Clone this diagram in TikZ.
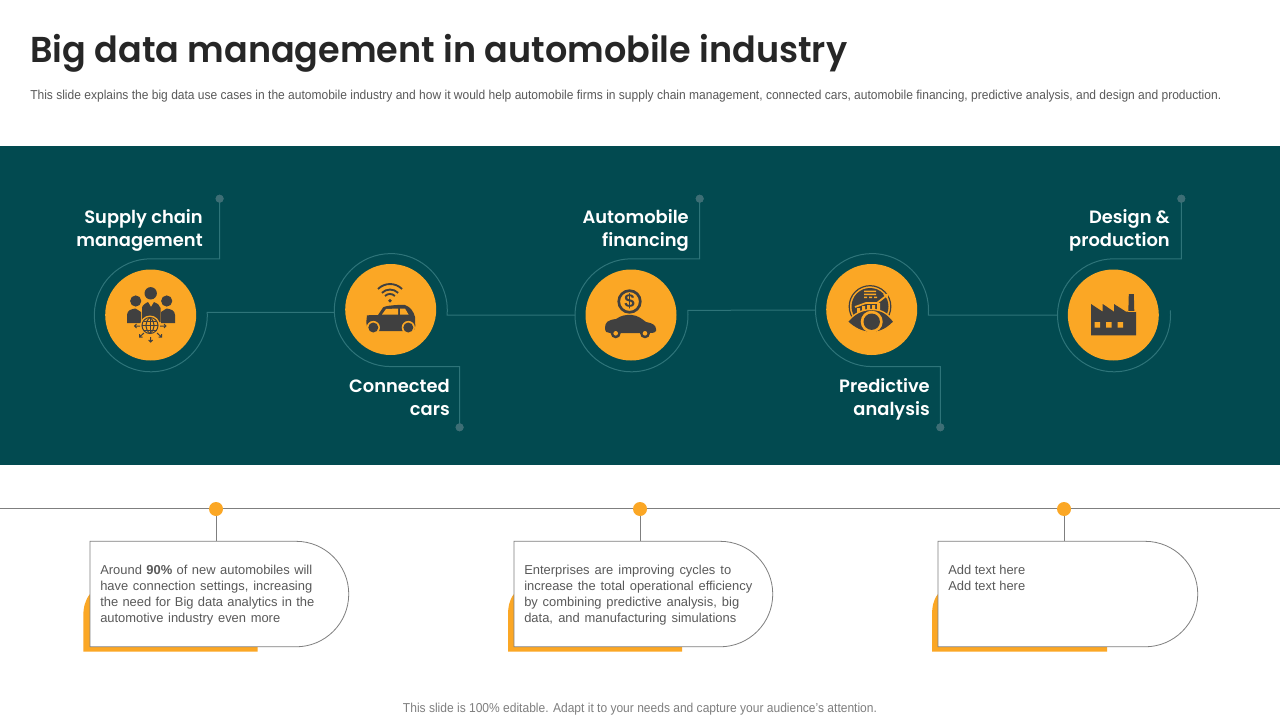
\documentclass[tikz,border=0pt]{standalone}
\usepackage{graphicx}
\usepackage{fontspec}
\setmainfont{Liberation Sans}
\newfontfamily\headfont{Poppins}[BoldFont=* SemiBold]
\definecolor{teal}{HTML}{024A50}
\definecolor{amber}{HTML}{FBA725}
\definecolor{ink}{HTML}{404040}
\definecolor{titleink}{HTML}{262626}
\definecolor{bodyink}{HTML}{595959}
\definecolor{footink}{HTML}{7F7F7F}
\definecolor{leader}{HTML}{2E7479}
\definecolor{leaderdot}{HTML}{3D6E75}
\definecolor{rule}{HTML}{7F7F7F}
\def\pu{0.75pt}
\tikzset{
  disc/.style={circle,fill=amber,minimum size=68.25pt,inner sep=0pt},
  ldot/.style={circle,fill=leaderdot,minimum size=6pt,inner sep=0pt},
  link/.style={draw=leader,line width=0.75pt},
  hub/.style={circle,fill=amber,minimum size=10.5pt,inner sep=0pt},
  stem/.style={draw=rule,line width=0.75pt},
  card/.style={draw=rule,line width=0.6pt,fill=white},
  tag/.style={anchor=east,align=right,text=white,font=\headfont\bfseries\fontsize{13.4}{17.25}\selectfont,inner sep=0pt},
  cardtext/.style={anchor=west,align=left,text=bodyink,font=\fontsize{9.7}{12}\selectfont,inner sep=0pt},
  icon/.style={fill=ink,draw=none},
  gap/.style={fill=amber,draw=none},
}
\newcommand{\fitl}[2]{\makebox[\dimexpr 0.75pt*#1\relax][s]{#2}}
\newcommand{\squeeze}[2]{\resizebox{\dimexpr 0.75pt*#1\relax}{\height}{#2}}
\begin{document}
\begin{tikzpicture}[x=0.75pt,y=-0.75pt]
\useasboundingbox (0,0) rectangle (1280,720);
\fill[white] (0,0) rectangle (1280,720);
\node[anchor=west,inner sep=0pt,text=titleink,font=\headfont\bfseries\fontsize{27}{32}\selectfont] (title) at (30,53) {\squeeze{817}{Big data management in automobile industry}};
\node[anchor=west,inner sep=0pt,text=bodyink,font=\fontsize{9.7}{11}\selectfont] (sub) at (30,96) {\squeeze{1191}{This slide explains the big data use cases in the automobile industry and how it would help automobile firms in supply chain management, connected cars, automobile financing, predictive analysis, and design and production.}};
\fill[teal] (0,146) rectangle (1280,465);

% discs
\node[disc] (n1) at (150.7,315) {};
\node[disc] (n2) at (390.7,309.5) {};
\node[disc] (n3) at (631,315) {};
\node[disc] (n4) at (871.7,309.5) {};
\node[disc] (n5) at (1113.3,315) {};
% leader dots
\node[ldot] (d1) at (219.6,198.7) {};
\node[ldot] (d2) at (459.6,427.3) {};
\node[ldot] (d3) at (699.7,198.7) {};
\node[ldot] (d4) at (940.3,427.3) {};
\node[ldot] (d5) at (1181.3,198.7) {};
% ring points
\coordinate (t1) at (150.8,258.8);
\coordinate (j2) at (334.4,312.3);
\coordinate (b2) at (390.8,366.6);
\coordinate (j3) at (575.1,315);
\coordinate (t3) at (631.5,258.8);
\coordinate (j4) at (815.6,310);
\coordinate (b4) at (872,366.6);
\coordinate (j5) at (1057.6,315);
\coordinate (t5) at (1114,258.8);
% connectors
\draw[link] (d1.center) |- (t1) arc[start angle=90,end angle=363,radius=56.5*\pu] -- (j2);
\draw[link] (d2.center) |- (b2) arc[start angle=270,end angle=-5,radius=56.5*\pu] -- (j3);
\draw[link] (d3.center) |- (t3) arc[start angle=90,end angle=365,radius=56.5*\pu] -- (j4);
\draw[link] (d4.center) |- (b4) arc[start angle=270,end angle=-5,radius=56.5*\pu] -- (j5);
\draw[link] (d5.center) |- (t5) arc[start angle=90,end angle=365,radius=56.5*\pu];
\node[ldot] at (d1) {};\node[ldot] at (d2) {};\node[ldot] at (d3) {};\node[ldot] at (d4) {};\node[ldot] at (d5) {};
% labels
\node[tag] (l1) at (203,230.5) {Supply chain\\management};
\node[tag] (l2) at (450,397.5) {Connected\\cars};
\node[tag] (l3) at (689,230.5) {Automobile\\financing};
\node[tag] (l4) at (930,399) {Predictive\\analysis};
\node[tag] (l5) at (1170,230.5) {Design \&\\production};

% ---- icon 1: people and globe
\fill[icon] (150.7,293.3) circle[radius=6.2*\pu];
\fill[icon] (135.7,301) circle[radius=5.6*\pu];
\fill[icon] (166.7,301) circle[radius=5.6*\pu];
\fill[icon] (127,323) -- (127,315) .. controls (127,310) and (132,309) .. (135.5,308.5) -- (141,312) -- (141,323) -- cycle;
\fill[icon] (175,323) -- (175,315) .. controls (175,310) and (170,309) .. (166.5,308.5) -- (161,312) -- (161,323) -- cycle;
\fill[icon] (142,322) -- (142,308) .. controls (142,305) and (146,303) .. (148,302) -- (151,307) -- (154,302) .. controls (157,303) and (160,305) .. (160.5,308) -- (160.5,322) -- cycle;
\fill[gap] (150,325.5) circle[radius=10*\pu];
\begin{scope}[draw=ink,line width=0.75pt]
\draw (150,325.5) circle[radius=8*\pu];
\draw (142,325.5) -- (158,325.5) (150,317.5) -- (150,333.5) (143.5,321) -- (156.5,321) (143.5,330) -- (156.5,330);
\draw (150,317.5) .. controls (144.5,322) and (144.5,329) .. (150,333.5);
\draw (150,317.5) .. controls (155.5,322) and (155.5,329) .. (150,333.5);
\end{scope}
\begin{scope}[draw=ink,line width=0.75pt]
\draw (140,326) -- (134.5,326) (136.5,324) -- (134.5,326) -- (136.5,328);
\draw (160,326) -- (166,326) (164,324) -- (166,326) -- (164,328);
\draw (144,333) -- (139.5,337) (139.5,334) -- (139.5,337) -- (142.5,337);
\draw (157,333) -- (161.5,337) (161.5,334) -- (161.5,337) -- (158.5,337);
\draw (150.7,337) -- (150.7,342) (148.7,340) -- (150.7,342) -- (152.7,340);
\end{scope}

% ---- icon 2: connected car
\fill[icon] (390,300.7) circle[radius=1.9*\pu];
\begin{scope}[draw=ink,line width=1.4pt]
\draw (385,296) arc[start angle=135,end angle=45,radius=7*\pu];
\draw (381.9,292.9) arc[start angle=135,end angle=45,radius=11.5*\pu];
\draw (378,289) arc[start angle=135,end angle=45,radius=17*\pu];
\end{scope}
\fill[icon] (367,315.3) -- (378,315) -- (383,307.5) .. controls (385,305.5) and (400,304.5) .. (405,305) .. controls (410,306.5) and (414,312) .. (415,317) -- (415.3,326) .. controls (415.3,329) and (414,331) .. (412,331) -- (370,331) .. controls (367,329) and (366,324) .. (366.5,320) -- cycle;
\fill[gap] (382,314.5) -- (386,309) -- (398,308.5) -- (398,314.5) -- cycle;
\fill[gap] (400,314.5) -- (400,308.5) -- (405,308.5) -- (408.5,314.5) -- cycle;
\fill[gap] (373.3,327.5) circle[radius=6.6*\pu];
\fill[gap] (408.3,327.5) circle[radius=6.6*\pu];
\fill[icon] (373.3,327.5) circle[radius=5*\pu];
\fill[icon] (408.3,327.5) circle[radius=5*\pu];

% ---- icon 3: coin and car
\draw[draw=ink,line width=2pt] (629.5,301.5) circle[radius=10.8*\pu];
\node[inner sep=0pt,text=ink,font=\bfseries\fontsize{14}{14}\selectfont] (coin) at (629.5,301.5) {\$};
\fill[icon] (605,328) .. controls (605,322) and (608,320) .. (616,319) .. controls (621,315.5) and (626,314.5) .. (632,315) .. controls (638,315.5) and (642,319) .. (646,322) .. controls (652,323) and (656,325) .. (656,329) -- (656,331) .. controls (656,332) and (654,333) .. (650,333) -- (610,333) .. controls (607,333) and (605,332) .. (605,328) -- cycle;
\fill[icon] (615.7,333.3) circle[radius=5*\pu];
\fill[icon] (645,333.3) circle[radius=5*\pu];
\fill[gap] (615.7,333.3) circle[radius=2.3*\pu];
\fill[gap] (645,333.3) circle[radius=2.3*\pu];

% ---- icon 4: eye and chart
\fill[icon] (870,306.5) circle[radius=18.5*\pu];
\draw[draw=ink,line width=0.9pt] (870,306.5) circle[radius=20.8*\pu];
\fill[gap] (864,290.5) rectangle (876,292) (864,293.5) rectangle (876,295) (864,296.5) rectangle (867,298) (869,296.5) rectangle (872,298) (874,296.5) rectangle (877,298);
\draw[draw=amber,line width=1.3pt] (855,307) -- (866,303) -- (877,303) -- (886,296);
\fill[gap] (888.5,293.5) -- (883,294.5) -- (887.5,299) -- cycle;
\fill[gap] (857,308) rectangle (860,318) (862,306) rectangle (865,318) (867,305) rectangle (870,318) (872,305) rectangle (875,318) (877,303) rectangle (880,318);
\draw[fill=ink,draw=amber,line width=1pt] (847.3,321.7) .. controls (854,314) and (861,309.5) .. (871.7,309.5) .. controls (882,309.5) and (888,314) .. (894,321.7) .. controls (888,328) and (881,332.5) .. (871.7,332.5) .. controls (862,332.5) and (854,328) .. (847.3,321.7) -- cycle;
\fill[gap] (871.7,321.7) circle[radius=11*\pu];
\fill[icon] (871.7,321.7) circle[radius=8.2*\pu];

% ---- icon 5: factory
\fill[icon] (1091,335.3) -- (1091,304) -- (1102.7,311.7) -- (1102.7,304) -- (1114,311.7) -- (1114,304) -- (1126,311.7) -- (1128.3,311.7) -- (1128.8,294) -- (1133.8,294) -- (1134.3,311.7) -- (1136,311.7) -- (1136,335.3) -- cycle;
\fill[gap] (1128,311) rectangle (1136,312.3);
\fill[gap] (1094.5,322) rectangle (1100,327.5) (1106.2,322) rectangle (1111.7,327.5) (1117.6,322) rectangle (1123.1,327.5);

% ---- lower part
\coordinate (rl) at (0,508.5);
\coordinate (rr) at (1280,508.5);
\draw[stem] (rl) -- (rr);
\fill[amber] (83.3,651.7) -- (257.7,651.7) -- (257.7,640) -- (90,640) -- (90,594) .. controls (85,600) and (83.3,608) .. (83.3,616) -- cycle;
\fill[amber] (508,651.7) -- (682,651.7) -- (682,640) -- (514,640) -- (514,594) .. controls (509,600) and (508,608) .. (508,616) -- cycle;
\fill[amber] (932,651.7) -- (1107,651.7) -- (1107,640) -- (938,640) -- (938,594) .. controls (933,600) and (932,608) .. (932,616) -- cycle;
\draw[card] (90,541.3) -- (296,541.3) arc[start angle=90,end angle=-90,radius=52.75*\pu] -- (90,646.8) -- cycle;
\draw[card] (514,541.3) -- (720,541.3) arc[start angle=90,end angle=-90,radius=52.75*\pu] -- (514,646.8) -- cycle;
\draw[card] (938,541.3) -- (1145,541.3) arc[start angle=90,end angle=-90,radius=52.75*\pu] -- (938,646.8) -- cycle;
\node[hub] (h1) at (216,509) {};
\node[hub] (h2) at (640,509) {};
\node[hub] (h3) at (1064,509) {};
\coordinate (c1) at (216,541.3);
\coordinate (c2) at (640,541.3);
\coordinate (c3) at (1064,541.3);
\draw[stem] (h1) -- (c1);
\draw[stem] (h2) -- (c2);
\draw[stem] (h3) -- (c3);
\node[cardtext] (x1) at (100,595) {\fitl{212}{Around \textbf{90\%} of new automobiles will}\\\fitl{212}{have connection settings, increasing}\\\fitl{214}{the need for Big data analytics in the}\\\fitl{180}{automotive industry even more}};
\node[cardtext] (x2) at (524,595) {\fitl{207}{Enterprises are improving cycles to}\\\fitl{228}{increase the total operational efficiency}\\\fitl{215}{by combining predictive analysis, big}\\\fitl{212}{data, and manufacturing simulations}};
\node[cardtext] (x3) at (948,577.5) {Add text here\\Add text here};
\node[anchor=center,inner sep=0pt,text=footink,font=\fontsize{9.7}{11}\selectfont] (foot) at (640,709) {\squeeze{474}{This slide is 100\% editable. Adapt it to your needs and capture your audience's attention.}};
\end{tikzpicture}
\end{document}
